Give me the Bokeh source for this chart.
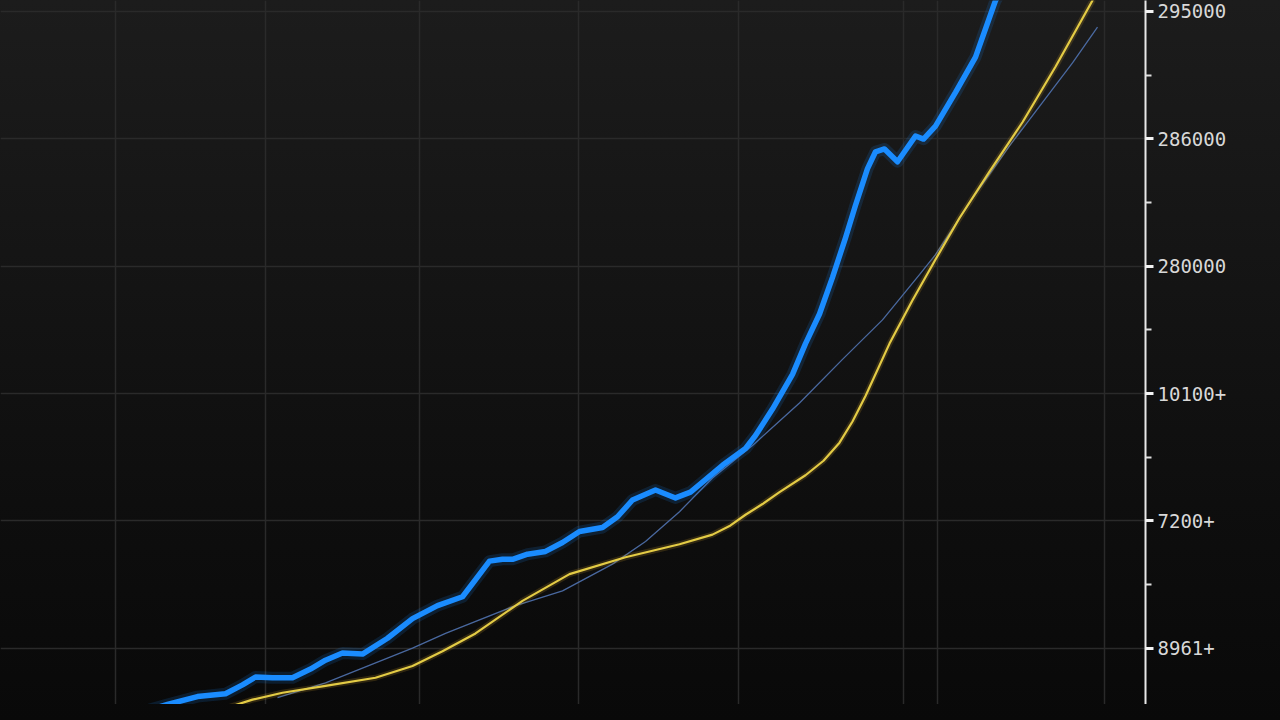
from bokeh.plotting import figure
from bokeh.models import FixedTicker, Range1d
from bokeh.embed import file_html
from bokeh.resources import INLINE

# ---- data ----
blue_x = [13.2, 16.7, 19.7, 22.5, 24.2, 25.5, 27.2, 29.2, 31.0, 32.5, 34.2, 36.2, 38.7,
          41.2, 43.7, 46.2, 47.4, 48.9, 50.2, 51.2, 52.7, 54.5, 56.2, 57.9, 60.2, 61.7,
          63.2, 65.5, 67.5, 69.0, 70.2, 72.2, 74.5, 75.5, 77.2, 79.2, 80.5, 81.9, 83.2,
          84.5, 85.5, 86.7, 87.5, 88.4, 89.7, 91.5, 92.3, 93.5, 95.5, 97.5, 99.5, 100.0]
blue_y = [24.0, 27.9, 31.0, 32.1, 35.6, 38.7, 38.4, 38.4, 41.8, 45.3, 48.1, 47.7, 53.9,
          61.6, 66.7, 70.2, 76.4, 84.2, 84.9, 84.9, 86.9, 88.0, 91.5, 95.8, 97.4, 101.6,
          108.2, 112.1, 109.0, 111.3, 115.2, 121.8, 128.4, 133.5, 143.9, 157.5, 169.6, 181.2, 195.6,
          211.1, 223.9, 238.3, 244.9, 246.0, 241.0, 251.1, 249.9, 255.0, 268.2, 282.1, 304.3, 307.4]

yellow_x = [21.2, 22.7, 25.2, 28.2, 32.5, 37.5, 41.2, 44.2, 47.5, 52.2, 56.9, 62.5, 67.9,
            71.2, 73.0, 74.5, 76.2, 77.9, 80.5, 82.3, 83.9, 85.2, 86.5, 88.9, 91.2, 93.5,
            95.9, 98.9, 102.2, 105.5, 109.2]
yellow_y = [24.0, 26.7, 29.8, 32.5, 35.2, 38.4, 43.0, 48.8, 55.8, 68.6, 79.1, 85.7, 90.8,
            94.6, 98.2, 102.4, 106.6, 111.3, 117.9, 123.6, 130.7, 139.0, 149.0, 169.6, 186.6, 202.6,
            218.9, 237.1, 256.5, 278.3, 304.3]

thin_x = [27.7, 32.5, 41.2, 44.5, 51.2, 56.2, 61.2, 64.5, 67.9, 71.2, 75.2, 79.9, 84.2,
          88.2, 91.9, 93.5, 97.2, 100.9, 103.9, 107.2, 109.7]
thin_y = [30.6, 36.4, 50.0, 55.8, 66.3, 72.5, 83.0, 91.9, 103.6, 116.8, 129.6, 146.3, 163.4,
          178.9, 196.7, 204.5, 226.6, 247.2, 262.7, 279.8, 293.8]

y_ticks = [50, 100, 150, 200, 250, 300]
y_minor = [25, 75, 125, 175, 225, 275]
y_labels = ["8961+", "7200+", "10100+", "280000", "286000", "295000"]
x_grid = [11.5, 26.5, 41.9, 57.8, 73.8, 90.3, 93.7, 110.4]

# ---- figure ----
p = figure(width=1264, height=704, output_backend="svg", toolbar_location=None,
           x_range=Range1d(0, 114.5), y_range=Range1d(27.9, 304.3),
           y_axis_location="right",
           min_border_left=0, min_border_top=0, min_border_bottom=0, min_border_right=119)
# transparent fills: the dark page gradient (set below) shows through
p.background_fill_color = "#121212"
p.background_fill_alpha = 0
p.border_fill_color = "#121212"
p.border_fill_alpha = 0
p.outline_line_color = None
p.xaxis.visible = False

p.xgrid.ticker = FixedTicker(ticks=x_grid)
p.ygrid.ticker = FixedTicker(ticks=y_ticks)
for g in (p.xgrid, p.ygrid):
    g.grid_line_color = "#2a2a2a"
    g.grid_line_width = 1.5

ax = p.yaxis[0]
ax.ticker = FixedTicker(ticks=y_ticks, minor_ticks=y_minor)
ax.major_label_overrides = {t: l for t, l in zip(y_ticks, y_labels)}
ax.major_label_text_font = "DejaVu Sans Mono"
ax.major_label_text_font_size = "19px"
ax.major_label_text_color = "#d8d8d8"
ax.major_label_standoff = 4
ax.axis_line_color = "#e8e8e8"
ax.axis_line_width = 2
ax.major_tick_out = 8
ax.major_tick_in = 0
ax.major_tick_line_width = 3
ax.major_tick_line_color = "#f2f2f2"
ax.minor_tick_out = 6
ax.minor_tick_in = 0
ax.minor_tick_line_width = 2
ax.minor_tick_line_color = "#e0e0e0"

# thin steel-blue line
p.line(thin_x, thin_y, line_color="#4d6ea8", line_width=1.3, line_alpha=0.95)

# yellow line with soft glow
p.line(yellow_x, yellow_y, line_color="#d9a82a", line_width=6, line_alpha=0.18,
       line_join="round", line_cap="round")
p.line(yellow_x, yellow_y, line_color="#e3cb45", line_width=2.2,
       line_join="round", line_cap="round")

# thick blue line with glow
p.line(blue_x, blue_y, line_color="#1a8cff", line_width=12, line_alpha=0.15,
       line_join="round", line_cap="round")
p.line(blue_x, blue_y, line_color="#1a8cff", line_width=5.5,
       line_join="round", line_cap="round")

html = file_html(p, INLINE, title="chart")
css = ("<style>html { min-height: 100%; background: #121212 linear-gradient(180deg, "
       "#1c1c1c 0%, #151515 35%, #0e0e0e 70%, #090909 100%) no-repeat; "
       "background-size: 100% 720px; } body { background: transparent; }</style>\n</head>")
html = html.replace("</head>", css, 1)
open("out.html", "w").write(html)
